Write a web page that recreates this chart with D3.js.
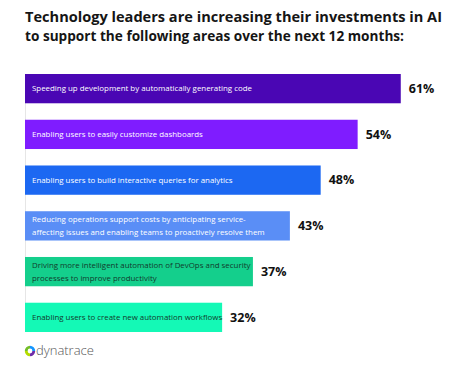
<!DOCTYPE html>
<html>
<head>
<meta charset="utf-8">
<script src="https://cdn.jsdelivr.net/npm/d3@7"></script>
<style>
  body { margin: 0; background: #fff; }
  svg { display: block; }
</style>
</head>
<body>
<div id="chart"></div>
<script>
const titleLines = ["Technology leaders are increasing their investments in AI",
                    "to support the following areas over the next 12 months:"];

const categories = [
    ["Speeding up development by automatically generating code"],
    ["Enabling users to easily customize dashboards"],
    ["Enabling users to build interactive queries for analytics"],
    ["Reducing operations support costs by anticipating service-",
     "affecting issues and enabling teams to proactively resolve them"],
    ["Driving more intelligent automation of DevOps and security",
     "processes to improve productivity"],
    ["Enabling users to create new automation workflows"]
];

const values = [61, 54, 48, 43, 37, 32];

const barColors = ["#4a06b4", "#7f1cff", "#1c68f2", "#5a8ef6", "#14cf8c", "#14f9b6"];
const textColors = ["#ffffff", "#ffffff", "#ffffff", "#ffffff", "#123a2c", "#123a2c"];

const w = 474, h = 367;
const margin = {top: 74, left: 25};

let svg = d3.select("#chart")
    .append("svg")
    .attr("width", w)
    .attr("height", h);

// title
svg.append("g")
    .selectAll("text")
    .data(titleLines)
    .join("text")
    .attr("x", 25)
    .attr("y", (d, i) => 22 + i * 18.5)
    .attr("font-family", "'Open Sans', sans-serif")
    .attr("font-weight", "bold")
    .attr("font-size", "15px")
    .attr("fill", "#151515")
    .attr("textLength", (d, i) => i == 0 ? 417 : 379)
    .attr("lengthAdjust", "spacingAndGlyphs")
    .text(d => d);

let x = d3.scaleLinear()
    .domain([0, 100])
    .range([0, 616]);

let y = d3.scaleBand()
    .domain(d3.range(values.length))
    .range([0, 258])
    .paddingInner(0.36)
    .paddingOuter(0);

let g = svg.append("g")
    .attr("transform", "translate(" + margin.left + "," + margin.top + ")");

// faint left axis line
g.append("line")
    .attr("x1", 0.5)
    .attr("x2", 0.5)
    .attr("y1", 0)
    .attr("y2", 258)
    .attr("stroke", "#e6e6e6")
    .attr("stroke-width", 1);

let rows = g.selectAll(".row")
    .data(values)
    .join("g")
    .attr("class", "row")
    .attr("transform", (d, i) => "translate(0," + y(i) + ")");

rows.append("rect")
    .attr("x", 0)
    .attr("width", d => x(d))
    .attr("height", y.bandwidth())
    .attr("fill", (d, i) => barColors[i]);

rows.append("text")
    .attr("x", 7)
    .attr("y", (d, i) => y.bandwidth() / 2 - (categories[i].length - 1) * 6.3)
    .attr("font-family", "'Open Sans', sans-serif")
    .attr("font-size", "7.9px")
    .attr("fill", (d, i) => textColors[i])
    .selectAll("tspan")
    .data((d, i) => categories[i])
    .join("tspan")
    .attr("x", 7)
    .attr("dy", (d, j) => j == 0 ? "0.35em" : "12.6px")
    .text(d => d);

rows.append("text")
    .attr("x", d => x(d) + 8)
    .attr("y", y.bandwidth() / 2)
    .attr("dy", "0.35em")
    .attr("font-family", "'Open Sans', sans-serif")
    .attr("font-weight", "bold")
    .attr("font-size", "12.5px")
    .attr("fill", "#111")
    .text(d => d + "%");

// logo
let logo = svg.append("g")
    .attr("transform", "translate(30,351)");

const ringColors = ["#1496ff", "#6f2da8", "#b4dc00", "#73be28"];
let arc = d3.arc().innerRadius(2.4).outerRadius(5.2);
let pie = d3.pie().sort(null)([1, 1, 1, 1]);
logo.selectAll("path")
    .data(pie)
    .join("path")
    .attr("d", arc)
    .attr("fill", (d, i) => ringColors[i]);

svg.append("text")
    .attr("x", 36)
    .attr("y", 355)
    .attr("font-family", "'Open Sans', sans-serif")
    .attr("font-weight", 300)
    .attr("font-size", "13px")
    .attr("fill", "#555")
    .text("dynatrace");
</script>
</body>
</html>
